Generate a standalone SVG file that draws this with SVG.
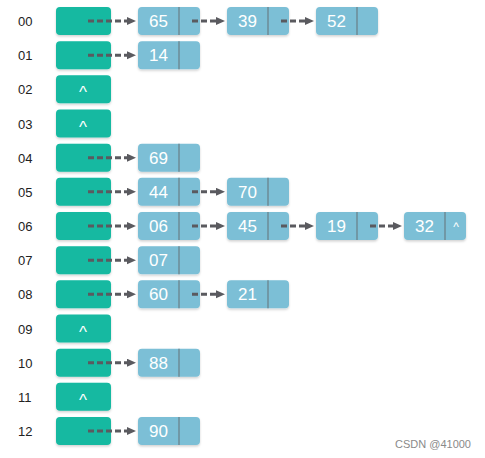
<svg xmlns="http://www.w3.org/2000/svg" width="485" height="458" viewBox="0 0 485 458">
<defs>
<style>
.idx{font-family:"Liberation Sans",Arial,sans-serif;font-size:13px;fill:#222}
.head{fill:#14b9a1}
.cell{fill:#7bbfd6}
.div{stroke:#6d8b96;stroke-width:1.5}
.val{font-family:"Liberation Sans",Arial,sans-serif;font-size:17px;fill:#fff;text-anchor:middle}
.nul{font-family:"Liberation Sans",Arial,sans-serif;font-size:17px;fill:#fff;text-anchor:middle}
.nul2{font-family:"Liberation Sans",Arial,sans-serif;font-size:12px;fill:#fff;text-anchor:middle}
.con line{stroke:#5a5a5f;stroke-width:3;stroke-dasharray:6 3;fill:none}
.wm{font-family:"Liberation Sans",Arial,sans-serif;font-size:11px;fill:#8a8a8a}
</style>
<filter id="sh" x="-10%" y="-20%" width="120%" height="150%">
<feDropShadow dx="0" dy="1.5" stdDeviation="1" flood-color="#000" flood-opacity="0.18"/>
</filter>
<marker id="ah" markerUnits="userSpaceOnUse" markerWidth="10" markerHeight="10" refX="0" refY="4" orient="auto">
<path d="M0,0 L9,4 L0,8 z" fill="#5a5a5f"/>
</marker>
<g id="blk"><rect x="0" y="-14" width="62" height="28" rx="4" class="cell" filter="url(#sh)"/><line x1="41" y1="-14" x2="41" y2="14" class="div"/></g>
<rect id="hd" x="56" y="-14" width="55" height="28" rx="4" class="head" filter="url(#sh)"/>
</defs>
<rect width="485" height="458" fill="#fff"/>

<g id="row00" transform="translate(0,21)"><text class="idx" x="18" y="5">00</text><use href="#hd"/>
<g id="n00a"><use href="#blk" x="138"/><text class="val" x="158.5" y="6">65</text></g>
<g id="n00b"><use href="#blk" x="227"/><text class="val" x="247.5" y="6">39</text></g>
<g id="n00c"><use href="#blk" x="316"/><text class="val" x="336.5" y="6">52</text></g></g>

<g id="row01" transform="translate(0,55.2)"><text class="idx" x="18" y="5">01</text><use href="#hd"/>
<g id="n01a"><use href="#blk" x="138"/><text class="val" x="158.5" y="6">14</text></g></g>

<g id="row02" transform="translate(0,89.3)"><text class="idx" x="18" y="5">02</text><use href="#hd"/><text class="nul" x="83" y="9">^</text></g>
<g id="row03" transform="translate(0,123.5)"><text class="idx" x="18" y="5">03</text><use href="#hd"/><text class="nul" x="83" y="9">^</text></g>

<g id="row04" transform="translate(0,157.7)"><text class="idx" x="18" y="5">04</text><use href="#hd"/>
<g id="n04a"><use href="#blk" x="138"/><text class="val" x="158.5" y="6">69</text></g></g>

<g id="row05" transform="translate(0,191.8)"><text class="idx" x="18" y="5">05</text><use href="#hd"/>
<g id="n05a"><use href="#blk" x="138"/><text class="val" x="158.5" y="6">44</text></g>
<g id="n05b"><use href="#blk" x="227"/><text class="val" x="247.5" y="6">70</text></g></g>

<g id="row06" transform="translate(0,226)"><text class="idx" x="18" y="5">06</text><use href="#hd"/>
<g id="n06a"><use href="#blk" x="138"/><text class="val" x="158.5" y="6">06</text></g>
<g id="n06b"><use href="#blk" x="227"/><text class="val" x="247.5" y="6">45</text></g>
<g id="n06c"><use href="#blk" x="316"/><text class="val" x="336.5" y="6">19</text></g>
<g id="n06d"><use href="#blk" x="404"/><text class="val" x="424.5" y="6">32</text><text class="nul2" x="456" y="5">^</text></g></g>

<g id="row07" transform="translate(0,260.2)"><text class="idx" x="18" y="5">07</text><use href="#hd"/>
<g id="n07a"><use href="#blk" x="138"/><text class="val" x="158.5" y="6">07</text></g></g>

<g id="row08" transform="translate(0,294.3)"><text class="idx" x="18" y="5">08</text><use href="#hd"/>
<g id="n08a"><use href="#blk" x="138"/><text class="val" x="158.5" y="6">60</text></g>
<g id="n08b"><use href="#blk" x="227"/><text class="val" x="247.5" y="6">21</text></g></g>

<g id="row09" transform="translate(0,328.5)"><text class="idx" x="18" y="5">09</text><use href="#hd"/><text class="nul" x="83" y="9">^</text></g>

<g id="row10" transform="translate(0,362.7)"><text class="idx" x="18" y="5">10</text><use href="#hd"/>
<g id="n10a"><use href="#blk" x="138"/><text class="val" x="158.5" y="6">88</text></g></g>

<g id="row11" transform="translate(0,396.8)"><text class="idx" x="18" y="5">11</text><use href="#hd"/><text class="nul" x="83" y="9">^</text></g>

<g id="row12" transform="translate(0,431)"><text class="idx" x="18" y="5">12</text><use href="#hd"/>
<g id="n12a"><use href="#blk" x="138"/><text class="val" x="158.5" y="6">90</text></g></g>

<g id="connectors" class="con">
<line x1="88" y1="21" x2="127" y2="21" marker-end="url(#ah)"/>
<line x1="192" y1="21" x2="216" y2="21" marker-end="url(#ah)"/>
<line x1="281" y1="21" x2="305" y2="21" marker-end="url(#ah)"/>
<line x1="88" y1="55.2" x2="127" y2="55.2" marker-end="url(#ah)"/>
<line x1="88" y1="157.7" x2="127" y2="157.7" marker-end="url(#ah)"/>
<line x1="88" y1="191.8" x2="127" y2="191.8" marker-end="url(#ah)"/>
<line x1="192" y1="191.8" x2="216" y2="191.8" marker-end="url(#ah)"/>
<line x1="88" y1="226" x2="127" y2="226" marker-end="url(#ah)"/>
<line x1="192" y1="226" x2="216" y2="226" marker-end="url(#ah)"/>
<line x1="281" y1="226" x2="305" y2="226" marker-end="url(#ah)"/>
<line x1="370" y1="226" x2="393" y2="226" marker-end="url(#ah)"/>
<line x1="88" y1="260.2" x2="127" y2="260.2" marker-end="url(#ah)"/>
<line x1="88" y1="294.3" x2="127" y2="294.3" marker-end="url(#ah)"/>
<line x1="192" y1="294.3" x2="216" y2="294.3" marker-end="url(#ah)"/>
<line x1="88" y1="362.7" x2="127" y2="362.7" marker-end="url(#ah)"/>
<line x1="88" y1="431" x2="127" y2="431" marker-end="url(#ah)"/>
</g>

<text class="wm" x="395" y="448">CSDN @41000</text>
</svg>
